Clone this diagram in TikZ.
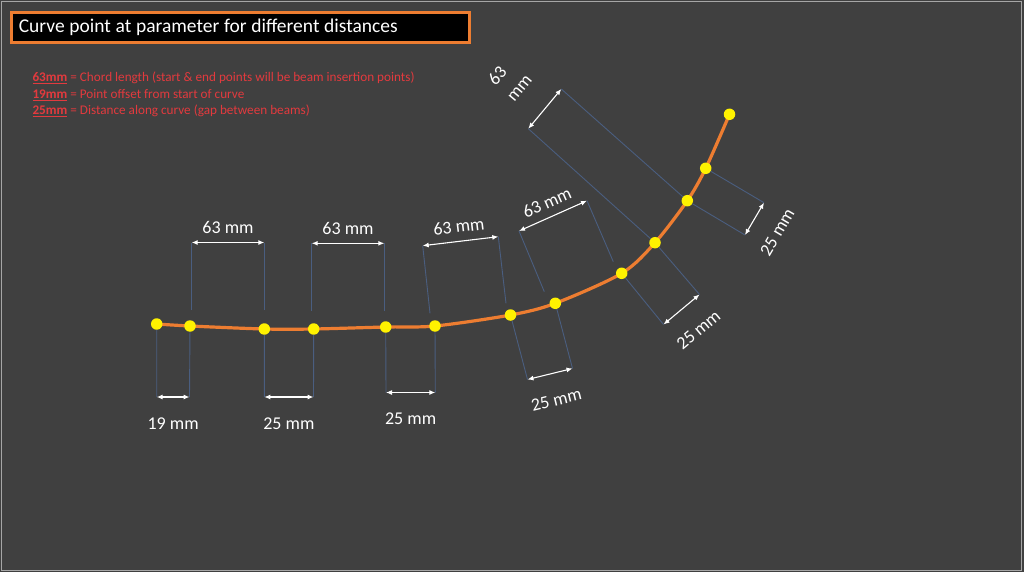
\documentclass[tikz,border=0pt]{standalone}
\usepackage{fontspec}
\setmainfont{Carlito}
\usetikzlibrary{positioning,arrows.meta}
\definecolor{slide}{RGB}{64,64,64}
\definecolor{accent}{RGB}{237,125,49}
\definecolor{guide}{RGB}{74,94,128}
\definecolor{keyred}{RGB}{226,58,62}
\newcommand\keyterm[1]{\underline{\textbf{#1}}}

\begin{document}
\begin{tikzpicture}[x=1pt,y=-1pt,
  dot/.style={circle,fill=yellow,inner sep=0pt,minimum size=11.5pt},
  extline/.style={draw=guide,line width=0.9pt},
  dimarrow/.style={white,line width=1.1pt,{Latex[length=6pt,width=5pt]}-{Latex[length=6pt,width=5pt]}},
  dimtext/.style={text=white,font=\fontsize{18}{24}\selectfont,inner sep=0pt,sloped},
  lbltop/.style={dimtext,above=8pt},
  lblbot/.style={dimtext,below=20pt},
  lblbig/.style={dimtext,above=27pt,align=left},
  keyline/.style={text=keyred,font=\fontsize{13.2}{17}\selectfont,inner sep=0pt,anchor=base west}]
\fill[slide] (0,0) rectangle (1024,572);
\draw[gray!70,line width=0.8pt] (1.5,1.5) rectangle (1021.5,570);

% title and key
\node[draw=accent,line width=3pt,fill=black,anchor=north west,minimum width=458pt,minimum height=30pt,
  text width=443pt,inner xsep=7.5pt,align=left,text=white,font=\fontsize{19.5}{23}\selectfont]
  (title) at (9.8,10.8) {\spaceskip=0.24em\relax Curve point at parameter for different distances};
\node[keyline] (key1) at (32.3,82) {\keyterm{63mm} = Chord length (start \& end points will be beam insertion points)};
\node[keyline] (key2) at ([yshift=-16.5pt]key1.base west) {\keyterm{19mm} = Point offset from start of curve};
\node[keyline] (key3) at ([yshift=-16.5pt]key2.base west) {\keyterm{25mm} = Distance along curve (gap between beams)};

% points on the curve
\foreach \px/\py [count=\i from 0] in {156.7/324, 190/326, 264.3/329, 313.7/329, 385.7/327, 435/326,
    510.5/315, 555.3/303.3, 621.7/273.3, 655/242.7, 687.3/200.7, 705.7/168.3, 729.5/114.3}
  \coordinate (c\i) at (\px,\py);
\draw[accent,line width=3.2pt] plot[smooth,tension=0.5] coordinates
  {(c0) (c1) (c2) (c3) (c4) (c5) (c6) (c7) (c8) (c9) (c10) (c11) (c12)};
\foreach \i in {0,...,12}
  \node[dot] (p\i) at (c\i) {};

% dimension ends
\coordinate (a1) at (156.7,397);   \coordinate (b1) at (189.5,397);
\coordinate (s2a) at (191.7,310);  \coordinate (a2) at (191.7,242.5);
\coordinate (s2b) at (264.3,310);  \coordinate (b2) at (264.3,242.5);
\coordinate (a3) at (264.3,397);   \coordinate (b3) at (313.5,397);
\coordinate (s4a) at (311.7,311);  \coordinate (a4) at (311.7,243.3);
\coordinate (s4b) at (384.3,311);  \coordinate (b4) at (384.3,243.3);
\coordinate (a5) at (386,392.5);   \coordinate (b5) at (435.3,392.5);
\coordinate (s6a) at (430,313.3);  \coordinate (a6) at (422.7,245.7);
\coordinate (s6b) at (506,303.3);  \coordinate (b6) at (498.3,236.7);
\coordinate (a7) at (527.5,379.5); \coordinate (b7) at (572.5,368.5);
\coordinate (s8a) at (544.3,291.7); \coordinate (a8) at (519,231);
\coordinate (s8b) at (613.3,261.7); \coordinate (b8) at (587,200.7);
\coordinate (a9) at (663.5,324.5); \coordinate (b9) at (699.5,294.5);
\coordinate (a10) at (528.3,128.7); \coordinate (b10) at (561.3,89);
\coordinate (a11) at (745,235);    \coordinate (b11) at (764,202.7);

% extension lines
\draw[extline] (p0) -- (a1) (p1) -- (b1);
\draw[extline] (s2a) -- (a2) (s2b) -- (b2);
\draw[extline] (p2) -- (a3) (p3) -- (b3);
\draw[extline] (s4a) -- (a4) (s4b) -- (b4);
\draw[extline] (p4) -- (a5) (p5) -- (b5);
\draw[extline] (s6a) -- (a6) (s6b) -- (b6);
\draw[extline] (p6) -- (a7) (p7) -- (b7);
\draw[extline] (s8a) -- (a8) (s8b) -- (b8);
\draw[extline] (p8) -- (a9) (p9) -- (b9);
\draw[extline] (p9) -- (a10) (p10) -- (b10);
\draw[extline] (p10) -- (a11) (p11) -- (b11);

% dimensions
\foreach \i/\t/\s in {1/19 mm/lblbot, 2/63 mm/lbltop, 3/25 mm/lblbot, 4/63 mm/lbltop, 5/25 mm/lblbot,
    6/63 mm/lbltop, 7/25 mm/lblbot, 8/63 mm/lbltop, 9/25 mm/lblbot, 10/63\\mm/lblbig, 11/25 mm/lblbot}
  \draw[dimarrow] (a\i) -- node[\s] (t\i) {\t} (b\i);
\end{tikzpicture}
\end{document}
